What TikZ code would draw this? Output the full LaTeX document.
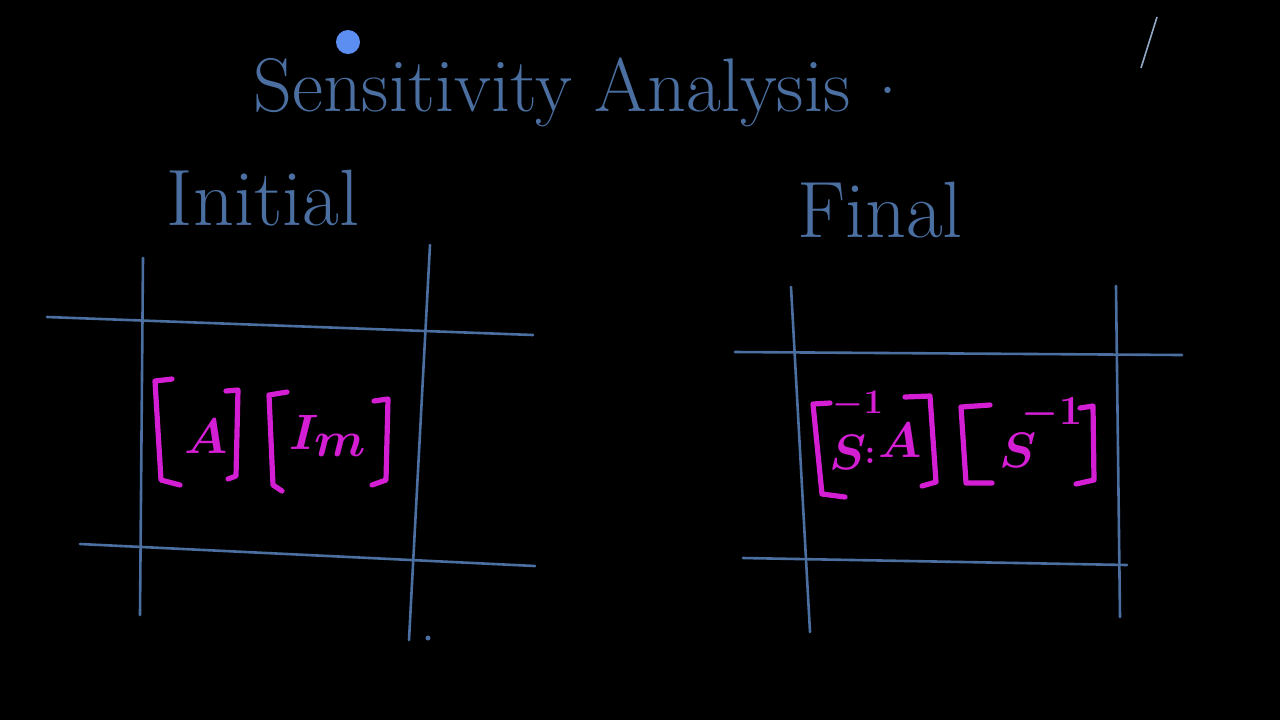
\documentclass[tikz,border=0pt]{standalone}
\usepackage{tikz}
\definecolor{chalkblue}{HTML}{4A6FA0}
\definecolor{chalkpink}{HTML}{D41ED4}
\definecolor{cursorblue}{HTML}{5B8EF0}
\tikzset{
  chalk/.style={draw=chalkblue, line width=1.3pt, line cap=round},
  brak/.style={draw=chalkpink, line width=2.6pt, line cap=round, line join=round},
  word/.style={text=chalkblue, inner sep=0pt},
  mat/.style={text=chalkpink, inner sep=0pt, font=\fontsize{38}{44}\selectfont\boldmath}
}
\begin{document}
\begin{tikzpicture}[x=0.5pt, y=-0.5pt]
  \fill[black] (0,0) rectangle (1280,720);
  \useasboundingbox (0,0) rectangle (1280,720);
  % headings
  \node[word, font=\fontsize{38}{44}\selectfont] (title) at (552,92) {Sensitivity Analysis};
  \node[word, font=\fontsize{38}{44}\selectfont] (stop) at (888,90) {.};
  \fill[cursorblue] (348,42) circle (12);
  \node[word, font=\fontsize{40}{44}\selectfont] (initial) at (263,198) {Initial};
  \node[word, font=\fontsize{40}{44}\selectfont] (final) at (880,210) {Final};
  % initial tableau
  \draw[chalk] (47,317) -- (533,335);
  \draw[chalk] (80,544) -- (535,566);
  \draw[chalk] (143,258) -- (140,615);
  \draw[chalk] (430,245) -- (409,640);
  \fill[chalkblue] (428,638) circle (2.5);
  \node[mat] (amat) at (206,436) {$A$};
  \node[mat] (imat) at (328,436) {$I_m$};
  \draw[brak] (172,379) -- (155,381) -- (161,480) -- (180,485);
  \draw[brak] (226,391) -- (238,390) -- (236,476) -- (228,479);
  \draw[brak] (287,392) -- (269,395) -- (273,485) -- (282,491);
  \draw[brak] (374,401) -- (388,399) -- (386,480) -- (372,485);
  % final tableau
  \draw[chalk] (735,352) -- (1182,355);
  \draw[chalk] (743,558) -- (1127,565);
  \draw[chalk] (791,287) -- (810,632);
  \draw[chalk] (1116,286) -- (1120,617);
  \node[mat, font=\fontsize{32}{36}\selectfont\boldmath] (sone) at (848,452) {$S$};
  \node[mat, font=\fontsize{18}{20}\selectfont\boldmath] (soneexp) at (858,405) {$-1$};
  \node[mat, font=\fontsize{18}{20}\selectfont\boldmath] (dots) at (870,456) {$:$};
  \node[mat, font=\fontsize{28}{32}\selectfont\boldmath] (aone) at (900,440) {$A$};
  \node[mat] (stwo) at (1018,450) {$S$};
  \node[mat, font=\fontsize{22}{24}\selectfont\boldmath] (stwoexp) at (1052,414) {$-1$};
  \draw[brak] (830,403) -- (813,404) -- (822,494) -- (845,497);
  \draw[brak] (905,397) -- (930,396) -- (936,482) -- (922,486);
  \draw[brak] (990,405) -- (961,407) -- (966,483) -- (992,483);
  \draw[brak] (1080,408) -- (1093,406) -- (1094,480) -- (1076,484);
  % stray stroke
  \draw[draw=chalkblue!60, line width=0.8pt] (1157,17) -- (1141,68);
\end{tikzpicture}
\end{document}
